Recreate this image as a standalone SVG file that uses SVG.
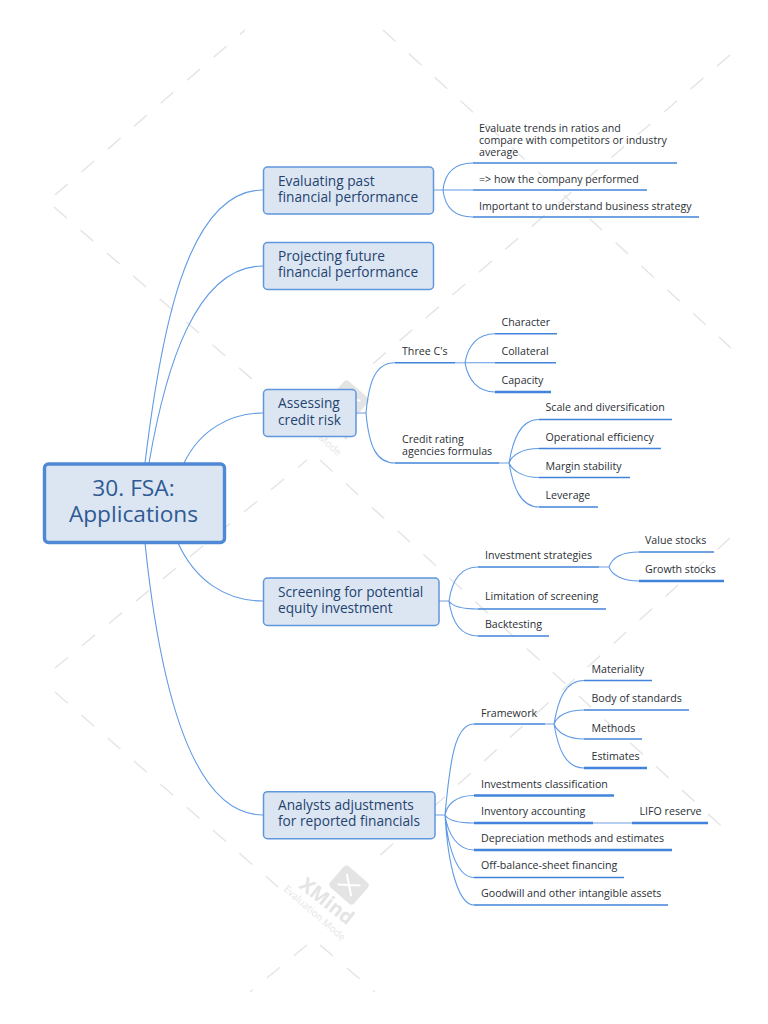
<svg xmlns="http://www.w3.org/2000/svg" width="768" height="1024" viewBox="0 0 768 1024">
<style>
text{font-family:"Open Sans","Noto Sans","DejaVu Sans",sans-serif}
.wm{stroke:#e4e4e4;stroke-width:1.4;fill:none;stroke-dasharray:17 18}
.wt{fill:#e4e4e4;font-weight:700;font-size:19.500px}
.we{fill:#e6e6e6;font-size:10px}
.c{fill:none;stroke:#5f9ae6;stroke-width:1.1}
.s{fill:none;stroke:#9fc0ec;stroke-width:1.4}
.u{stroke:#4284dc;stroke-width:1.6}
.t{stroke:#4284dc;stroke-width:2.4}
.n{fill:#dce6f3;stroke:#5f96dc;stroke-width:1.5}
.r{fill:#dce6f3;stroke:#4f88d4;stroke-width:3.4}
.nt{fill:#24436f;font-size:13.700px}
.rt{fill:#2f5a94;font-size:22.700px;text-anchor:middle}
.l{fill:#2b2f36;font-size:10.650px}
</style>
<rect width="768" height="1024" fill="#ffffff"/>
<g id="watermark">
<path class="wm" d="M55,195L245,30"/>
<path class="wm" d="M54,207L253,380"/>
<path class="wm" d="M730,55L360,375"/>
<path class="wm" d="M383,30L731,348"/>
<path class="wm" d="M55,668L307,460"/>
<path class="wm" d="M320,460L728,832"/>
<path class="wm" d="M730,538L375,860"/>
<path class="wm" d="M55,692L278,887"/>
<path class="wm" d="M307,945L250,992"/>
<path class="wm" d="M320,945L375,992"/>
<g transform="translate(349,400) rotate(41)"><rect x="-16" y="-14" width="32" height="28" rx="4" fill="#e4e4e4"/><path d="M-9,-7L9,7M9,-7L-9,7" stroke="#fff" stroke-width="2"/></g>
<text class="wt" transform="translate(298,402) rotate(38)">XMind</text>
<text class="we" transform="translate(279,405) rotate(41)">Evaluation Mode</text>
<g transform="translate(349,885) rotate(41)"><rect x="-16" y="-14" width="32" height="28" rx="4" fill="#e4e4e4"/><path d="M-9,-7L9,7M9,-7L-9,7" stroke="#fff" stroke-width="2"/></g>
<text class="wt" transform="translate(298,887) rotate(38)">XMind</text>
<text class="we" transform="translate(283,890) rotate(41)">Evaluation Mode</text>
</g>
<g id="connectors">
<path class="c" d="M145,463C160,340 185,190 263,190"/>
<path class="c" d="M149,463C165,370 195,266 263,266"/>
<path class="c" d="M184,463C200,430 230,413 263,413"/>
<path class="c" d="M178,543C195,580 225,601 263,601"/>
<path class="c" d="M145,543C155,640 180,815 263,815"/>
<path class="s" d="M433,190H443M356,413H366M455,362.7H465M499,463H509M439,601H449M599,567H609M435,815H445M545,724H554M593,823H632"/>
<path class="c" d="M443,190C445,172 455,163 473,163M443,190C450,190 460,190 473,190M443,190C445,208 455,217 473,217"/>
<path class="c" d="M366,413C369,380 376,362.7 395,362.7M366,413C369,446 376,463 395,463"/>
<path class="c" d="M465,362.7C468,345 478,333.7 495,333.7M465,362.7H495M465,362.7C468,380 478,392 495,392"/>
<path class="c" d="M509,463C513,440 520,419.5 539,419.5M509,463C512,455 522,448.5 539,448.5M509,463C512,470 522,477.5 539,477.5M509,463C513,486 520,507 539,507"/>
<path class="c" d="M449,601C452,580 460,567 478,567M449,601C452,606 462,609 478,609M449,601C452,622 460,636 478,636"/>
<path class="c" d="M609,567C612,558 622,552 639,552M609,567C612,575 622,581 639,581"/>
<path class="c" d="M445,815C450,760 455,724 474,724M445,815C447,805 455,795.5 474,795.5M445,815C448,820 458,823 474,823M445,815C448,835 458,850 474,850M445,815C448,850 458,877.5 474,877.5M445,815C448,865 458,905 474,905"/>
<path class="c" d="M554,724C558,700 565,680.5 584,680.5M554,724C557,716 567,710 584,710M554,724C557,732 567,739 584,739M554,724C558,748 565,768 584,768"/>
<path class="u" d="M473,163H677M473,190H647M473,217H699"/>
<path class="u" d="M395,362.7H455M395,463H499M495,333.7H557M495,362.7H556M539,419.5H672M539,448.5H661M539,477.5H630M539,507H598"/>
<path class="t" d="M495,392H551"/>
<path class="u" d="M478,567H599M478,609H606M478,636H549M639,552H714"/>
<path class="t" d="M639,581H724"/>
<path class="u" d="M474,724H545M584,680.5H652M584,710H689M584,739H642M474,877.5H624M474,905H668"/>
<path class="t" d="M584,768H647M474,795.5H614M474,823H593M632,823H708M474,850H672"/>
</g>
<g id="root"><rect class="r" x="44.5" y="464" width="180" height="78.500" rx="4"/><text class="rt" x="133.500" y="495.700">30. FSA:</text><text class="rt" x="133.500" y="522">Applications</text></g>
<g id="n1"><rect class="n" x="263.500" y="167" width="170" height="47" rx="4"/><text class="nt" x="278" y="185.500">Evaluating past</text><text class="nt" x="278" y="201.500">financial performance</text></g>
<g id="n2"><rect class="n" x="263.500" y="242.500" width="170" height="47" rx="4"/><text class="nt" x="278" y="260.500">Projecting future</text><text class="nt" x="278" y="276.500">financial performance</text></g>
<g id="n3"><rect class="n" x="263.500" y="389.500" width="92.500" height="47" rx="4"/><text class="nt" x="278" y="408">Assessing</text><text class="nt" x="278" y="424.500">credit risk</text></g>
<g id="n4"><rect class="n" x="263.500" y="578" width="175.500" height="47.500" rx="4"/><text class="nt" x="278" y="596.700">Screening for potential</text><text class="nt" x="278" y="612.700">equity investment</text></g>
<g id="n5"><rect class="n" x="263.500" y="791.700" width="171.500" height="47" rx="4"/><text class="nt" x="278" y="810">Analysts adjustments</text><text class="nt" x="278" y="825.700">for reported financials</text></g>
<g id="leaves">
<text class="l" x="479" y="131.700">Evaluate trends in ratios and</text>
<text class="l" x="479" y="143.500">compare with competitors or industry</text>
<text class="l" x="479" y="155.500">average</text>
<text class="l" x="479" y="182.500">=&gt; how the company performed</text>
<text class="l" x="479" y="209.500">Important to understand business strategy</text>
<text class="l" x="402" y="355">Three C's</text>
<text class="l" x="501.500" y="326">Character</text>
<text class="l" x="501.500" y="355">Collateral</text>
<text class="l" x="501.500" y="384">Capacity</text>
<text class="l" x="402" y="443">Credit rating</text>
<text class="l" x="402" y="455">agencies formulas</text>
<text class="l" x="545.500" y="411">Scale and diversification</text>
<text class="l" x="545.500" y="440.700">Operational efficiency</text>
<text class="l" x="545.500" y="469.700">Margin stability</text>
<text class="l" x="545.500" y="498.700">Leverage</text>
<text class="l" x="485" y="559">Investment strategies</text>
<text class="l" x="485" y="600">Limitation of screening</text>
<text class="l" x="485" y="628">Backtesting</text>
<text class="l" x="645" y="544">Value stocks</text>
<text class="l" x="645" y="573">Growth stocks</text>
<text class="l" x="481" y="716.700">Framework</text>
<text class="l" x="591.500" y="673">Materiality</text>
<text class="l" x="591.500" y="701.700">Body of standards</text>
<text class="l" x="591.500" y="731.700">Methods</text>
<text class="l" x="591.500" y="760.300">Estimates</text>
<text class="l" x="481" y="787.700">Investments classification</text>
<text class="l" x="481" y="815">Inventory accounting</text>
<text class="l" x="639.500" y="815">LIFO reserve</text>
<text class="l" x="481" y="842">Depreciation methods and estimates</text>
<text class="l" x="481" y="869">Off-balance-sheet financing</text>
<text class="l" x="481" y="897">Goodwill and other intangible assets</text>
</g>
</svg>
